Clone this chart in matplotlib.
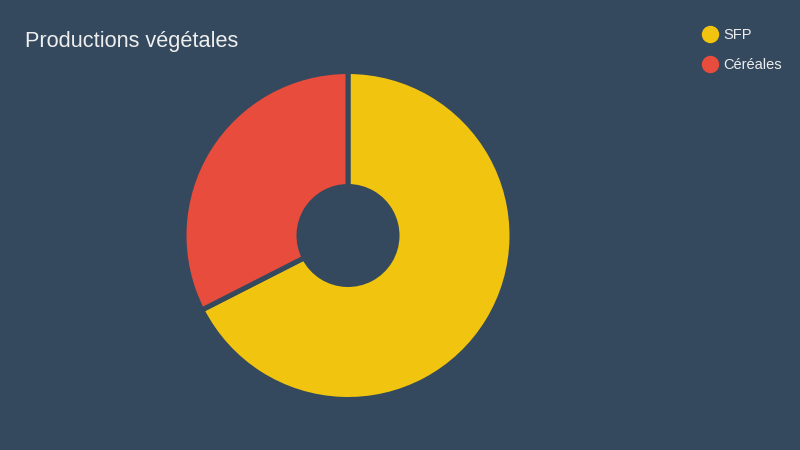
import matplotlib
matplotlib.use("Agg")
import matplotlib.pyplot as plt
from matplotlib.lines import Line2D

plt.rcParams['font.family'] = ['Liberation Sans', 'DejaVu Sans']

title = "Productions végétales"
categories = ["SFP", "Céréales"]
values = [67.5, 32.5]
colors = ["#f1c40f", "#e74c3c"]
bg = "#34495e"
text_color = "#eeeeee"

fig = plt.figure(figsize=(8, 4.5), dpi=100, facecolor=bg)
ax = fig.add_axes([0, 0, 1, 1])
ax.set_facecolor(bg)

ax.pie(values, colors=colors, startangle=90, counterclock=False,
       center=(348, 214.5), radius=164, frame=True,
       wedgeprops=dict(width=115, edgecolor=bg, linewidth=3.6))
ax.set_xlim(0, 800)
ax.set_ylim(0, 450)
ax.set_aspect('equal')
ax.axis('off')

fig.text(25 / 800, 1 - 47 / 450, title, fontsize=15.7, color=text_color,
         ha='left', va='baseline')

handles = [Line2D([], [], marker='o', linestyle='none', markersize=11.5,
                  markerfacecolor=c, markeredgecolor=c) for c in colors]
leg = fig.legend(handles, categories, loc='upper left',
                 bbox_to_anchor=(701 / 800, 1 - 28 / 450),
                 frameon=False, fontsize=10.5, labelcolor=text_color,
                 handletextpad=0.3, labelspacing=1.12, handlelength=1.25,
                 borderpad=0, borderaxespad=0)

fig.savefig("out.png", dpi=100, facecolor=bg)
